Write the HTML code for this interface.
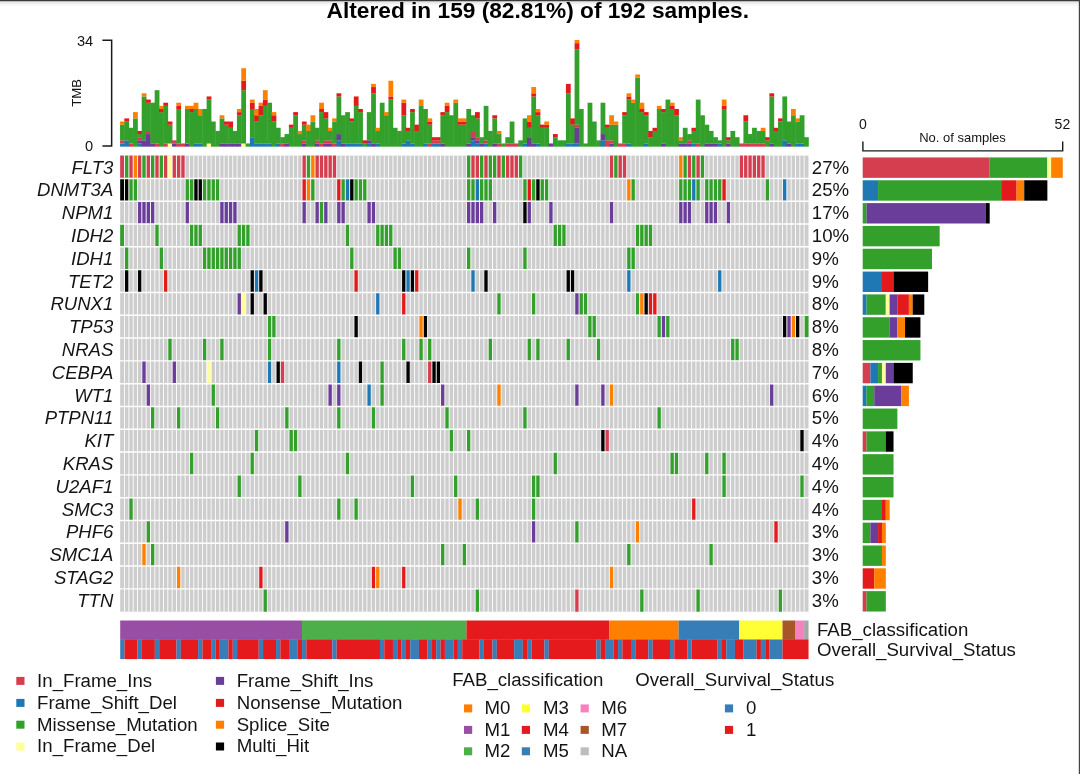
<!DOCTYPE html>
<html lang="en"><head><meta charset="utf-8"><title>Oncoplot</title>
<style>
html,body{margin:0;padding:0;background:#fff;}
body{width:1080px;height:774px;overflow:hidden;}
svg{display:block;}
text{font-family:"Liberation Sans",Arial,Helvetica,sans-serif;fill:#141414;}
.title{font-size:22.7px;font-weight:bold;fill:#000;}
.gene{font-size:18.55px;font-style:italic;}
.s18{font-size:18.65px;}
.s13{font-size:14px;}
.s13b{font-size:13px;}
.s12{font-size:13.2px;}
.s14{font-size:14.6px;}
</style></head><body>
<svg width="1080" height="774" viewBox="0 0 1080 774">
<rect x="0" y="0" width="1080" height="774" fill="#fff"/>
<rect x="0" y="1" width="1079" height="1" fill="#dedede"/>
<rect x="0" y="2" width="1079" height="1" fill="#e8e8e8"/>
<rect x="0" y="3" width="1079" height="1" fill="#f0f0f0"/>
<rect x="0" y="4" width="1079" height="1" fill="#f6f6f6"/>
<rect x="0" y="5" width="1079" height="1" fill="#fbfbfb"/>
<rect x="0" y="0" width="1080" height="1.2" fill="#3a3a3a"/>
<rect x="1078.8" y="0" width="1.2" height="774" fill="#444"/>
<rect x="120.20" y="155.60" width="688.30" height="456.10" fill="#CDCDCD"/>
<rect x="120.20" y="155.60" width="4.33" height="22.80" fill="#D53E4F"/>
<rect x="124.53" y="155.60" width="4.33" height="22.80" fill="#33A02C"/>
<rect x="128.86" y="155.60" width="4.33" height="22.80" fill="#D53E4F"/>
<rect x="133.19" y="155.60" width="4.33" height="22.80" fill="#FF7F00"/>
<rect x="137.52" y="155.60" width="4.33" height="22.80" fill="#D53E4F"/>
<rect x="141.84" y="155.60" width="4.33" height="22.80" fill="#33A02C"/>
<rect x="146.17" y="155.60" width="4.33" height="22.80" fill="#D53E4F"/>
<rect x="150.50" y="155.60" width="4.33" height="22.80" fill="#33A02C"/>
<rect x="154.83" y="155.60" width="4.33" height="22.80" fill="#D53E4F"/>
<rect x="159.16" y="155.60" width="4.33" height="22.80" fill="#33A02C"/>
<rect x="163.49" y="155.60" width="4.33" height="22.80" fill="#D53E4F"/>
<rect x="167.82" y="155.60" width="4.33" height="22.80" fill="#FFFF99"/>
<rect x="172.15" y="155.60" width="4.33" height="22.80" fill="#D53E4F"/>
<rect x="176.48" y="155.60" width="4.33" height="22.80" fill="#D53E4F"/>
<rect x="180.81" y="155.60" width="4.33" height="22.80" fill="#D53E4F"/>
<rect x="302.02" y="155.60" width="4.33" height="22.80" fill="#D53E4F"/>
<rect x="306.34" y="155.60" width="4.33" height="22.80" fill="#33A02C"/>
<rect x="310.67" y="155.60" width="4.33" height="22.80" fill="#FF7F00"/>
<rect x="315.00" y="155.60" width="4.33" height="22.80" fill="#D53E4F"/>
<rect x="319.33" y="155.60" width="4.33" height="22.80" fill="#D53E4F"/>
<rect x="323.66" y="155.60" width="4.33" height="22.80" fill="#D53E4F"/>
<rect x="327.99" y="155.60" width="4.33" height="22.80" fill="#D53E4F"/>
<rect x="332.32" y="155.60" width="4.33" height="22.80" fill="#D53E4F"/>
<rect x="466.51" y="155.60" width="4.33" height="22.80" fill="#33A02C"/>
<rect x="470.84" y="155.60" width="4.33" height="22.80" fill="#D53E4F"/>
<rect x="475.17" y="155.60" width="4.33" height="22.80" fill="#D53E4F"/>
<rect x="479.50" y="155.60" width="4.33" height="22.80" fill="#33A02C"/>
<rect x="483.83" y="155.60" width="4.33" height="22.80" fill="#D53E4F"/>
<rect x="488.16" y="155.60" width="4.33" height="22.80" fill="#33A02C"/>
<rect x="492.49" y="155.60" width="4.33" height="22.80" fill="#33A02C"/>
<rect x="496.82" y="155.60" width="4.33" height="22.80" fill="#D53E4F"/>
<rect x="501.15" y="155.60" width="4.33" height="22.80" fill="#33A02C"/>
<rect x="505.47" y="155.60" width="4.33" height="22.80" fill="#D53E4F"/>
<rect x="509.80" y="155.60" width="4.33" height="22.80" fill="#D53E4F"/>
<rect x="514.13" y="155.60" width="4.33" height="22.80" fill="#D53E4F"/>
<rect x="518.46" y="155.60" width="4.33" height="22.80" fill="#33A02C"/>
<rect x="609.37" y="155.60" width="4.33" height="22.80" fill="#D53E4F"/>
<rect x="613.70" y="155.60" width="4.33" height="22.80" fill="#33A02C"/>
<rect x="618.03" y="155.60" width="4.33" height="22.80" fill="#D53E4F"/>
<rect x="622.36" y="155.60" width="4.33" height="22.80" fill="#D53E4F"/>
<rect x="678.63" y="155.60" width="4.33" height="22.80" fill="#FF7F00"/>
<rect x="682.96" y="155.60" width="4.33" height="22.80" fill="#33A02C"/>
<rect x="687.29" y="155.60" width="4.33" height="22.80" fill="#D53E4F"/>
<rect x="691.62" y="155.60" width="4.33" height="22.80" fill="#33A02C"/>
<rect x="695.95" y="155.60" width="4.33" height="22.80" fill="#D53E4F"/>
<rect x="700.28" y="155.60" width="4.33" height="22.80" fill="#33A02C"/>
<rect x="739.24" y="155.60" width="4.33" height="22.80" fill="#D53E4F"/>
<rect x="743.57" y="155.60" width="4.33" height="22.80" fill="#D53E4F"/>
<rect x="747.89" y="155.60" width="4.33" height="22.80" fill="#D53E4F"/>
<rect x="752.22" y="155.60" width="4.33" height="22.80" fill="#D53E4F"/>
<rect x="756.55" y="155.60" width="4.33" height="22.80" fill="#D53E4F"/>
<rect x="760.88" y="155.60" width="4.33" height="22.80" fill="#D53E4F"/>
<rect x="120.20" y="178.41" width="4.33" height="22.80" fill="#000000"/>
<rect x="124.53" y="178.41" width="4.33" height="22.80" fill="#000000"/>
<rect x="128.86" y="178.41" width="4.33" height="22.80" fill="#33A02C"/>
<rect x="133.19" y="178.41" width="4.33" height="22.80" fill="#33A02C"/>
<rect x="185.13" y="178.41" width="4.33" height="22.80" fill="#33A02C"/>
<rect x="189.46" y="178.41" width="4.33" height="22.80" fill="#33A02C"/>
<rect x="193.79" y="178.41" width="4.33" height="22.80" fill="#000000"/>
<rect x="198.12" y="178.41" width="4.33" height="22.80" fill="#000000"/>
<rect x="202.45" y="178.41" width="4.33" height="22.80" fill="#33A02C"/>
<rect x="206.78" y="178.41" width="4.33" height="22.80" fill="#33A02C"/>
<rect x="211.11" y="178.41" width="4.33" height="22.80" fill="#33A02C"/>
<rect x="215.44" y="178.41" width="4.33" height="22.80" fill="#33A02C"/>
<rect x="302.02" y="178.41" width="4.33" height="22.80" fill="#E31A1C"/>
<rect x="306.34" y="178.41" width="4.33" height="22.80" fill="#FF7F00"/>
<rect x="310.67" y="178.41" width="4.33" height="22.80" fill="#33A02C"/>
<rect x="336.65" y="178.41" width="4.33" height="22.80" fill="#E31A1C"/>
<rect x="340.98" y="178.41" width="4.33" height="22.80" fill="#33A02C"/>
<rect x="345.30" y="178.41" width="4.33" height="22.80" fill="#1F78B4"/>
<rect x="349.63" y="178.41" width="4.33" height="22.80" fill="#000000"/>
<rect x="353.96" y="178.41" width="4.33" height="22.80" fill="#33A02C"/>
<rect x="358.29" y="178.41" width="4.33" height="22.80" fill="#33A02C"/>
<rect x="362.62" y="178.41" width="4.33" height="22.80" fill="#33A02C"/>
<rect x="466.51" y="178.41" width="4.33" height="22.80" fill="#33A02C"/>
<rect x="470.84" y="178.41" width="4.33" height="22.80" fill="#33A02C"/>
<rect x="475.17" y="178.41" width="4.33" height="22.80" fill="#1F78B4"/>
<rect x="479.50" y="178.41" width="4.33" height="22.80" fill="#33A02C"/>
<rect x="483.83" y="178.41" width="4.33" height="22.80" fill="#33A02C"/>
<rect x="488.16" y="178.41" width="4.33" height="22.80" fill="#33A02C"/>
<rect x="522.79" y="178.41" width="4.33" height="22.80" fill="#33A02C"/>
<rect x="527.12" y="178.41" width="4.33" height="22.80" fill="#E31A1C"/>
<rect x="531.45" y="178.41" width="4.33" height="22.80" fill="#33A02C"/>
<rect x="535.78" y="178.41" width="4.33" height="22.80" fill="#000000"/>
<rect x="540.11" y="178.41" width="4.33" height="22.80" fill="#33A02C"/>
<rect x="544.44" y="178.41" width="4.33" height="22.80" fill="#33A02C"/>
<rect x="626.68" y="178.41" width="4.33" height="22.80" fill="#FF7F00"/>
<rect x="631.01" y="178.41" width="4.33" height="22.80" fill="#33A02C"/>
<rect x="678.63" y="178.41" width="4.33" height="22.80" fill="#33A02C"/>
<rect x="682.96" y="178.41" width="4.33" height="22.80" fill="#33A02C"/>
<rect x="687.29" y="178.41" width="4.33" height="22.80" fill="#33A02C"/>
<rect x="691.62" y="178.41" width="4.33" height="22.80" fill="#1F78B4"/>
<rect x="695.95" y="178.41" width="4.33" height="22.80" fill="#33A02C"/>
<rect x="704.61" y="178.41" width="4.33" height="22.80" fill="#33A02C"/>
<rect x="708.93" y="178.41" width="4.33" height="22.80" fill="#33A02C"/>
<rect x="713.26" y="178.41" width="4.33" height="22.80" fill="#33A02C"/>
<rect x="717.59" y="178.41" width="4.33" height="22.80" fill="#33A02C"/>
<rect x="721.92" y="178.41" width="4.33" height="22.80" fill="#E31A1C"/>
<rect x="765.21" y="178.41" width="4.33" height="22.80" fill="#33A02C"/>
<rect x="782.53" y="178.41" width="4.33" height="22.80" fill="#1F78B4"/>
<rect x="137.52" y="201.21" width="4.33" height="22.80" fill="#6A3D9A"/>
<rect x="141.84" y="201.21" width="4.33" height="22.80" fill="#6A3D9A"/>
<rect x="146.17" y="201.21" width="4.33" height="22.80" fill="#6A3D9A"/>
<rect x="150.50" y="201.21" width="4.33" height="22.80" fill="#6A3D9A"/>
<rect x="185.13" y="201.21" width="4.33" height="22.80" fill="#6A3D9A"/>
<rect x="219.77" y="201.21" width="4.33" height="22.80" fill="#6A3D9A"/>
<rect x="224.09" y="201.21" width="4.33" height="22.80" fill="#6A3D9A"/>
<rect x="228.42" y="201.21" width="4.33" height="22.80" fill="#6A3D9A"/>
<rect x="232.75" y="201.21" width="4.33" height="22.80" fill="#6A3D9A"/>
<rect x="302.02" y="201.21" width="4.33" height="22.80" fill="#6A3D9A"/>
<rect x="315.00" y="201.21" width="4.33" height="22.80" fill="#6A3D9A"/>
<rect x="319.33" y="201.21" width="4.33" height="22.80" fill="#33A02C"/>
<rect x="323.66" y="201.21" width="4.33" height="22.80" fill="#6A3D9A"/>
<rect x="336.65" y="201.21" width="4.33" height="22.80" fill="#6A3D9A"/>
<rect x="340.98" y="201.21" width="4.33" height="22.80" fill="#6A3D9A"/>
<rect x="366.95" y="201.21" width="4.33" height="22.80" fill="#6A3D9A"/>
<rect x="371.28" y="201.21" width="4.33" height="22.80" fill="#6A3D9A"/>
<rect x="466.51" y="201.21" width="4.33" height="22.80" fill="#6A3D9A"/>
<rect x="470.84" y="201.21" width="4.33" height="22.80" fill="#6A3D9A"/>
<rect x="475.17" y="201.21" width="4.33" height="22.80" fill="#6A3D9A"/>
<rect x="479.50" y="201.21" width="4.33" height="22.80" fill="#6A3D9A"/>
<rect x="492.49" y="201.21" width="4.33" height="22.80" fill="#6A3D9A"/>
<rect x="522.79" y="201.21" width="4.33" height="22.80" fill="#000000"/>
<rect x="527.12" y="201.21" width="4.33" height="22.80" fill="#6A3D9A"/>
<rect x="548.76" y="201.21" width="4.33" height="22.80" fill="#6A3D9A"/>
<rect x="609.37" y="201.21" width="4.33" height="22.80" fill="#6A3D9A"/>
<rect x="678.63" y="201.21" width="4.33" height="22.80" fill="#6A3D9A"/>
<rect x="682.96" y="201.21" width="4.33" height="22.80" fill="#6A3D9A"/>
<rect x="687.29" y="201.21" width="4.33" height="22.80" fill="#6A3D9A"/>
<rect x="704.61" y="201.21" width="4.33" height="22.80" fill="#6A3D9A"/>
<rect x="708.93" y="201.21" width="4.33" height="22.80" fill="#6A3D9A"/>
<rect x="713.26" y="201.21" width="4.33" height="22.80" fill="#6A3D9A"/>
<rect x="726.25" y="201.21" width="4.33" height="22.80" fill="#6A3D9A"/>
<rect x="120.20" y="224.01" width="4.33" height="22.80" fill="#33A02C"/>
<rect x="154.83" y="224.01" width="4.33" height="22.80" fill="#33A02C"/>
<rect x="189.46" y="224.01" width="4.33" height="22.80" fill="#33A02C"/>
<rect x="193.79" y="224.01" width="4.33" height="22.80" fill="#33A02C"/>
<rect x="198.12" y="224.01" width="4.33" height="22.80" fill="#33A02C"/>
<rect x="237.08" y="224.01" width="4.33" height="22.80" fill="#33A02C"/>
<rect x="241.41" y="224.01" width="4.33" height="22.80" fill="#33A02C"/>
<rect x="245.74" y="224.01" width="4.33" height="22.80" fill="#33A02C"/>
<rect x="345.30" y="224.01" width="4.33" height="22.80" fill="#33A02C"/>
<rect x="375.61" y="224.01" width="4.33" height="22.80" fill="#33A02C"/>
<rect x="379.94" y="224.01" width="4.33" height="22.80" fill="#33A02C"/>
<rect x="384.26" y="224.01" width="4.33" height="22.80" fill="#33A02C"/>
<rect x="388.59" y="224.01" width="4.33" height="22.80" fill="#33A02C"/>
<rect x="553.09" y="224.01" width="4.33" height="22.80" fill="#33A02C"/>
<rect x="557.42" y="224.01" width="4.33" height="22.80" fill="#33A02C"/>
<rect x="561.75" y="224.01" width="4.33" height="22.80" fill="#33A02C"/>
<rect x="635.34" y="224.01" width="4.33" height="22.80" fill="#33A02C"/>
<rect x="639.67" y="224.01" width="4.33" height="22.80" fill="#33A02C"/>
<rect x="644.00" y="224.01" width="4.33" height="22.80" fill="#33A02C"/>
<rect x="648.33" y="224.01" width="4.33" height="22.80" fill="#33A02C"/>
<rect x="124.53" y="246.82" width="4.33" height="22.80" fill="#33A02C"/>
<rect x="159.16" y="246.82" width="4.33" height="22.80" fill="#33A02C"/>
<rect x="202.45" y="246.82" width="4.33" height="22.80" fill="#33A02C"/>
<rect x="206.78" y="246.82" width="4.33" height="22.80" fill="#33A02C"/>
<rect x="211.11" y="246.82" width="4.33" height="22.80" fill="#33A02C"/>
<rect x="215.44" y="246.82" width="4.33" height="22.80" fill="#33A02C"/>
<rect x="219.77" y="246.82" width="4.33" height="22.80" fill="#33A02C"/>
<rect x="224.09" y="246.82" width="4.33" height="22.80" fill="#33A02C"/>
<rect x="228.42" y="246.82" width="4.33" height="22.80" fill="#33A02C"/>
<rect x="232.75" y="246.82" width="4.33" height="22.80" fill="#33A02C"/>
<rect x="237.08" y="246.82" width="4.33" height="22.80" fill="#33A02C"/>
<rect x="349.63" y="246.82" width="4.33" height="22.80" fill="#33A02C"/>
<rect x="392.92" y="246.82" width="4.33" height="22.80" fill="#33A02C"/>
<rect x="397.25" y="246.82" width="4.33" height="22.80" fill="#33A02C"/>
<rect x="466.51" y="246.82" width="4.33" height="22.80" fill="#33A02C"/>
<rect x="522.79" y="246.82" width="4.33" height="22.80" fill="#33A02C"/>
<rect x="626.68" y="246.82" width="4.33" height="22.80" fill="#33A02C"/>
<rect x="631.01" y="246.82" width="4.33" height="22.80" fill="#33A02C"/>
<rect x="124.53" y="269.62" width="4.33" height="22.80" fill="#000000"/>
<rect x="137.52" y="269.62" width="4.33" height="22.80" fill="#000000"/>
<rect x="163.49" y="269.62" width="4.33" height="22.80" fill="#E31A1C"/>
<rect x="250.07" y="269.62" width="4.33" height="22.80" fill="#000000"/>
<rect x="254.40" y="269.62" width="4.33" height="22.80" fill="#1F78B4"/>
<rect x="258.73" y="269.62" width="4.33" height="22.80" fill="#000000"/>
<rect x="353.96" y="269.62" width="4.33" height="22.80" fill="#E31A1C"/>
<rect x="401.58" y="269.62" width="4.33" height="22.80" fill="#000000"/>
<rect x="405.91" y="269.62" width="4.33" height="22.80" fill="#1F78B4"/>
<rect x="410.24" y="269.62" width="4.33" height="22.80" fill="#000000"/>
<rect x="414.57" y="269.62" width="4.33" height="22.80" fill="#E31A1C"/>
<rect x="470.84" y="269.62" width="4.33" height="22.80" fill="#1F78B4"/>
<rect x="483.83" y="269.62" width="4.33" height="22.80" fill="#000000"/>
<rect x="566.08" y="269.62" width="4.33" height="22.80" fill="#000000"/>
<rect x="570.41" y="269.62" width="4.33" height="22.80" fill="#000000"/>
<rect x="626.68" y="269.62" width="4.33" height="22.80" fill="#1F78B4"/>
<rect x="717.59" y="269.62" width="4.33" height="22.80" fill="#1F78B4"/>
<rect x="237.08" y="292.43" width="4.33" height="22.80" fill="#6A3D9A"/>
<rect x="241.41" y="292.43" width="4.33" height="22.80" fill="#FFFF99"/>
<rect x="250.07" y="292.43" width="4.33" height="22.80" fill="#000000"/>
<rect x="263.05" y="292.43" width="4.33" height="22.80" fill="#000000"/>
<rect x="375.61" y="292.43" width="4.33" height="22.80" fill="#1F78B4"/>
<rect x="401.58" y="292.43" width="4.33" height="22.80" fill="#E31A1C"/>
<rect x="496.82" y="292.43" width="4.33" height="22.80" fill="#33A02C"/>
<rect x="531.45" y="292.43" width="4.33" height="22.80" fill="#33A02C"/>
<rect x="574.74" y="292.43" width="4.33" height="22.80" fill="#6A3D9A"/>
<rect x="579.07" y="292.43" width="4.33" height="22.80" fill="#33A02C"/>
<rect x="583.40" y="292.43" width="4.33" height="22.80" fill="#33A02C"/>
<rect x="635.34" y="292.43" width="4.33" height="22.80" fill="#33A02C"/>
<rect x="639.67" y="292.43" width="4.33" height="22.80" fill="#FF7F00"/>
<rect x="644.00" y="292.43" width="4.33" height="22.80" fill="#000000"/>
<rect x="648.33" y="292.43" width="4.33" height="22.80" fill="#E31A1C"/>
<rect x="652.66" y="292.43" width="4.33" height="22.80" fill="#E31A1C"/>
<rect x="267.38" y="315.24" width="4.33" height="22.80" fill="#33A02C"/>
<rect x="271.71" y="315.24" width="4.33" height="22.80" fill="#33A02C"/>
<rect x="353.96" y="315.24" width="4.33" height="22.80" fill="#000000"/>
<rect x="418.90" y="315.24" width="4.33" height="22.80" fill="#FF7F00"/>
<rect x="423.23" y="315.24" width="4.33" height="22.80" fill="#000000"/>
<rect x="587.72" y="315.24" width="4.33" height="22.80" fill="#33A02C"/>
<rect x="592.05" y="315.24" width="4.33" height="22.80" fill="#33A02C"/>
<rect x="656.99" y="315.24" width="4.33" height="22.80" fill="#33A02C"/>
<rect x="661.32" y="315.24" width="4.33" height="22.80" fill="#6A3D9A"/>
<rect x="665.65" y="315.24" width="4.33" height="22.80" fill="#33A02C"/>
<rect x="782.53" y="315.24" width="4.33" height="22.80" fill="#000000"/>
<rect x="786.86" y="315.24" width="4.33" height="22.80" fill="#6A3D9A"/>
<rect x="791.18" y="315.24" width="4.33" height="22.80" fill="#FF7F00"/>
<rect x="795.51" y="315.24" width="4.33" height="22.80" fill="#000000"/>
<rect x="804.17" y="315.24" width="4.33" height="22.80" fill="#33A02C"/>
<rect x="167.82" y="338.04" width="4.33" height="22.80" fill="#33A02C"/>
<rect x="202.45" y="338.04" width="4.33" height="22.80" fill="#33A02C"/>
<rect x="219.77" y="338.04" width="4.33" height="22.80" fill="#33A02C"/>
<rect x="267.38" y="338.04" width="4.33" height="22.80" fill="#33A02C"/>
<rect x="336.65" y="338.04" width="4.33" height="22.80" fill="#33A02C"/>
<rect x="401.58" y="338.04" width="4.33" height="22.80" fill="#33A02C"/>
<rect x="418.90" y="338.04" width="4.33" height="22.80" fill="#33A02C"/>
<rect x="427.55" y="338.04" width="4.33" height="22.80" fill="#33A02C"/>
<rect x="488.16" y="338.04" width="4.33" height="22.80" fill="#33A02C"/>
<rect x="527.12" y="338.04" width="4.33" height="22.80" fill="#33A02C"/>
<rect x="535.78" y="338.04" width="4.33" height="22.80" fill="#33A02C"/>
<rect x="566.08" y="338.04" width="4.33" height="22.80" fill="#33A02C"/>
<rect x="596.38" y="338.04" width="4.33" height="22.80" fill="#33A02C"/>
<rect x="730.58" y="338.04" width="4.33" height="22.80" fill="#33A02C"/>
<rect x="734.91" y="338.04" width="4.33" height="22.80" fill="#33A02C"/>
<rect x="141.84" y="360.85" width="4.33" height="22.80" fill="#6A3D9A"/>
<rect x="172.15" y="360.85" width="4.33" height="22.80" fill="#6A3D9A"/>
<rect x="206.78" y="360.85" width="4.33" height="22.80" fill="#FFFF99"/>
<rect x="267.38" y="360.85" width="4.33" height="22.80" fill="#1F78B4"/>
<rect x="276.04" y="360.85" width="4.33" height="22.80" fill="#000000"/>
<rect x="280.37" y="360.85" width="4.33" height="22.80" fill="#D53E4F"/>
<rect x="336.65" y="360.85" width="4.33" height="22.80" fill="#1F78B4"/>
<rect x="358.29" y="360.85" width="4.33" height="22.80" fill="#000000"/>
<rect x="379.94" y="360.85" width="4.33" height="22.80" fill="#33A02C"/>
<rect x="405.91" y="360.85" width="4.33" height="22.80" fill="#000000"/>
<rect x="427.55" y="360.85" width="4.33" height="22.80" fill="#D53E4F"/>
<rect x="431.88" y="360.85" width="4.33" height="22.80" fill="#000000"/>
<rect x="436.21" y="360.85" width="4.33" height="22.80" fill="#000000"/>
<rect x="146.17" y="383.65" width="4.33" height="22.80" fill="#6A3D9A"/>
<rect x="211.11" y="383.65" width="4.33" height="22.80" fill="#33A02C"/>
<rect x="327.99" y="383.65" width="4.33" height="22.80" fill="#6A3D9A"/>
<rect x="336.65" y="383.65" width="4.33" height="22.80" fill="#6A3D9A"/>
<rect x="366.95" y="383.65" width="4.33" height="22.80" fill="#1F78B4"/>
<rect x="379.94" y="383.65" width="4.33" height="22.80" fill="#33A02C"/>
<rect x="440.54" y="383.65" width="4.33" height="22.80" fill="#6A3D9A"/>
<rect x="496.82" y="383.65" width="4.33" height="22.80" fill="#FF7F00"/>
<rect x="574.74" y="383.65" width="4.33" height="22.80" fill="#6A3D9A"/>
<rect x="600.71" y="383.65" width="4.33" height="22.80" fill="#6A3D9A"/>
<rect x="609.37" y="383.65" width="4.33" height="22.80" fill="#FF7F00"/>
<rect x="769.54" y="383.65" width="4.33" height="22.80" fill="#6A3D9A"/>
<rect x="150.50" y="406.45" width="4.33" height="22.80" fill="#33A02C"/>
<rect x="176.48" y="406.45" width="4.33" height="22.80" fill="#33A02C"/>
<rect x="215.44" y="406.45" width="4.33" height="22.80" fill="#33A02C"/>
<rect x="284.70" y="406.45" width="4.33" height="22.80" fill="#33A02C"/>
<rect x="336.65" y="406.45" width="4.33" height="22.80" fill="#33A02C"/>
<rect x="371.28" y="406.45" width="4.33" height="22.80" fill="#33A02C"/>
<rect x="444.87" y="406.45" width="4.33" height="22.80" fill="#33A02C"/>
<rect x="522.79" y="406.45" width="4.33" height="22.80" fill="#33A02C"/>
<rect x="656.99" y="406.45" width="4.33" height="22.80" fill="#33A02C"/>
<rect x="254.40" y="429.26" width="4.33" height="22.80" fill="#33A02C"/>
<rect x="289.03" y="429.26" width="4.33" height="22.80" fill="#33A02C"/>
<rect x="293.36" y="429.26" width="4.33" height="22.80" fill="#33A02C"/>
<rect x="449.20" y="429.26" width="4.33" height="22.80" fill="#33A02C"/>
<rect x="466.51" y="429.26" width="4.33" height="22.80" fill="#33A02C"/>
<rect x="600.71" y="429.26" width="4.33" height="22.80" fill="#000000"/>
<rect x="605.04" y="429.26" width="4.33" height="22.80" fill="#D53E4F"/>
<rect x="799.84" y="429.26" width="4.33" height="22.80" fill="#000000"/>
<rect x="189.46" y="452.06" width="4.33" height="22.80" fill="#33A02C"/>
<rect x="250.07" y="452.06" width="4.33" height="22.80" fill="#33A02C"/>
<rect x="345.30" y="452.06" width="4.33" height="22.80" fill="#33A02C"/>
<rect x="553.09" y="452.06" width="4.33" height="22.80" fill="#33A02C"/>
<rect x="669.97" y="452.06" width="4.33" height="22.80" fill="#33A02C"/>
<rect x="674.30" y="452.06" width="4.33" height="22.80" fill="#33A02C"/>
<rect x="704.61" y="452.06" width="4.33" height="22.80" fill="#33A02C"/>
<rect x="721.92" y="452.06" width="4.33" height="22.80" fill="#33A02C"/>
<rect x="237.08" y="474.87" width="4.33" height="22.80" fill="#33A02C"/>
<rect x="297.69" y="474.87" width="4.33" height="22.80" fill="#33A02C"/>
<rect x="410.24" y="474.87" width="4.33" height="22.80" fill="#33A02C"/>
<rect x="453.53" y="474.87" width="4.33" height="22.80" fill="#33A02C"/>
<rect x="531.45" y="474.87" width="4.33" height="22.80" fill="#33A02C"/>
<rect x="535.78" y="474.87" width="4.33" height="22.80" fill="#33A02C"/>
<rect x="721.92" y="474.87" width="4.33" height="22.80" fill="#33A02C"/>
<rect x="799.84" y="474.87" width="4.33" height="22.80" fill="#33A02C"/>
<rect x="128.86" y="497.67" width="4.33" height="22.80" fill="#33A02C"/>
<rect x="336.65" y="497.67" width="4.33" height="22.80" fill="#33A02C"/>
<rect x="353.96" y="497.67" width="4.33" height="22.80" fill="#33A02C"/>
<rect x="457.86" y="497.67" width="4.33" height="22.80" fill="#FF7F00"/>
<rect x="475.17" y="497.67" width="4.33" height="22.80" fill="#33A02C"/>
<rect x="531.45" y="497.67" width="4.33" height="22.80" fill="#33A02C"/>
<rect x="691.62" y="497.67" width="4.33" height="22.80" fill="#E31A1C"/>
<rect x="146.17" y="520.48" width="4.33" height="22.80" fill="#33A02C"/>
<rect x="284.70" y="520.48" width="4.33" height="22.80" fill="#6A3D9A"/>
<rect x="531.45" y="520.48" width="4.33" height="22.80" fill="#6A3D9A"/>
<rect x="574.74" y="520.48" width="4.33" height="22.80" fill="#33A02C"/>
<rect x="635.34" y="520.48" width="4.33" height="22.80" fill="#FF7F00"/>
<rect x="773.87" y="520.48" width="4.33" height="22.80" fill="#E31A1C"/>
<rect x="141.84" y="543.28" width="4.33" height="22.80" fill="#FF7F00"/>
<rect x="150.50" y="543.28" width="4.33" height="22.80" fill="#33A02C"/>
<rect x="440.54" y="543.28" width="4.33" height="22.80" fill="#33A02C"/>
<rect x="462.19" y="543.28" width="4.33" height="22.80" fill="#33A02C"/>
<rect x="626.68" y="543.28" width="4.33" height="22.80" fill="#33A02C"/>
<rect x="708.93" y="543.28" width="4.33" height="22.80" fill="#33A02C"/>
<rect x="176.48" y="566.09" width="4.33" height="22.80" fill="#FF7F00"/>
<rect x="258.73" y="566.09" width="4.33" height="22.80" fill="#E31A1C"/>
<rect x="371.28" y="566.09" width="4.33" height="22.80" fill="#E31A1C"/>
<rect x="375.61" y="566.09" width="4.33" height="22.80" fill="#FF7F00"/>
<rect x="401.58" y="566.09" width="4.33" height="22.80" fill="#E31A1C"/>
<rect x="609.37" y="566.09" width="4.33" height="22.80" fill="#FF7F00"/>
<rect x="263.05" y="588.89" width="4.33" height="22.80" fill="#33A02C"/>
<rect x="475.17" y="588.89" width="4.33" height="22.80" fill="#33A02C"/>
<rect x="574.74" y="588.89" width="4.33" height="22.80" fill="#D53E4F"/>
<rect x="639.67" y="588.89" width="4.33" height="22.80" fill="#33A02C"/>
<rect x="695.95" y="588.89" width="4.33" height="22.80" fill="#33A02C"/>
<rect x="778.20" y="588.89" width="4.33" height="22.80" fill="#33A02C"/>
<path d="M124.53 155.10V612.20M128.86 155.10V612.20M133.19 155.10V612.20M137.52 155.10V612.20M141.84 155.10V612.20M146.17 155.10V612.20M150.50 155.10V612.20M154.83 155.10V612.20M159.16 155.10V612.20M163.49 155.10V612.20M167.82 155.10V612.20M172.15 155.10V612.20M176.48 155.10V612.20M180.81 155.10V612.20M185.13 155.10V612.20M189.46 155.10V612.20M193.79 155.10V612.20M198.12 155.10V612.20M202.45 155.10V612.20M206.78 155.10V612.20M211.11 155.10V612.20M215.44 155.10V612.20M219.77 155.10V612.20M224.09 155.10V612.20M228.42 155.10V612.20M232.75 155.10V612.20M237.08 155.10V612.20M241.41 155.10V612.20M245.74 155.10V612.20M250.07 155.10V612.20M254.40 155.10V612.20M258.73 155.10V612.20M263.05 155.10V612.20M267.38 155.10V612.20M271.71 155.10V612.20M276.04 155.10V612.20M280.37 155.10V612.20M284.70 155.10V612.20M289.03 155.10V612.20M293.36 155.10V612.20M297.69 155.10V612.20M302.02 155.10V612.20M306.34 155.10V612.20M310.67 155.10V612.20M315.00 155.10V612.20M319.33 155.10V612.20M323.66 155.10V612.20M327.99 155.10V612.20M332.32 155.10V612.20M336.65 155.10V612.20M340.98 155.10V612.20M345.30 155.10V612.20M349.63 155.10V612.20M353.96 155.10V612.20M358.29 155.10V612.20M362.62 155.10V612.20M366.95 155.10V612.20M371.28 155.10V612.20M375.61 155.10V612.20M379.94 155.10V612.20M384.26 155.10V612.20M388.59 155.10V612.20M392.92 155.10V612.20M397.25 155.10V612.20M401.58 155.10V612.20M405.91 155.10V612.20M410.24 155.10V612.20M414.57 155.10V612.20M418.90 155.10V612.20M423.23 155.10V612.20M427.55 155.10V612.20M431.88 155.10V612.20M436.21 155.10V612.20M440.54 155.10V612.20M444.87 155.10V612.20M449.20 155.10V612.20M453.53 155.10V612.20M457.86 155.10V612.20M462.19 155.10V612.20M466.51 155.10V612.20M470.84 155.10V612.20M475.17 155.10V612.20M479.50 155.10V612.20M483.83 155.10V612.20M488.16 155.10V612.20M492.49 155.10V612.20M496.82 155.10V612.20M501.15 155.10V612.20M505.47 155.10V612.20M509.80 155.10V612.20M514.13 155.10V612.20M518.46 155.10V612.20M522.79 155.10V612.20M527.12 155.10V612.20M531.45 155.10V612.20M535.78 155.10V612.20M540.11 155.10V612.20M544.44 155.10V612.20M548.76 155.10V612.20M553.09 155.10V612.20M557.42 155.10V612.20M561.75 155.10V612.20M566.08 155.10V612.20M570.41 155.10V612.20M574.74 155.10V612.20M579.07 155.10V612.20M583.40 155.10V612.20M587.72 155.10V612.20M592.05 155.10V612.20M596.38 155.10V612.20M600.71 155.10V612.20M605.04 155.10V612.20M609.37 155.10V612.20M613.70 155.10V612.20M618.03 155.10V612.20M622.36 155.10V612.20M626.68 155.10V612.20M631.01 155.10V612.20M635.34 155.10V612.20M639.67 155.10V612.20M644.00 155.10V612.20M648.33 155.10V612.20M652.66 155.10V612.20M656.99 155.10V612.20M661.32 155.10V612.20M665.65 155.10V612.20M669.97 155.10V612.20M674.30 155.10V612.20M678.63 155.10V612.20M682.96 155.10V612.20M687.29 155.10V612.20M691.62 155.10V612.20M695.95 155.10V612.20M700.28 155.10V612.20M704.61 155.10V612.20M708.93 155.10V612.20M713.26 155.10V612.20M717.59 155.10V612.20M721.92 155.10V612.20M726.25 155.10V612.20M730.58 155.10V612.20M734.91 155.10V612.20M739.24 155.10V612.20M743.57 155.10V612.20M747.89 155.10V612.20M752.22 155.10V612.20M756.55 155.10V612.20M760.88 155.10V612.20M765.21 155.10V612.20M769.54 155.10V612.20M773.87 155.10V612.20M778.20 155.10V612.20M782.53 155.10V612.20M786.86 155.10V612.20M791.18 155.10V612.20M795.51 155.10V612.20M799.84 155.10V612.20M804.17 155.10V612.20" stroke="#fff" stroke-width="0.9" fill="none"/>
<path d="M119.70 178.41H809.00M119.70 201.21H809.00M119.70 224.01H809.00M119.70 246.82H809.00M119.70 269.62H809.00M119.70 292.43H809.00M119.70 315.24H809.00M119.70 338.04H809.00M119.70 360.85H809.00M119.70 383.65H809.00M119.70 406.45H809.00M119.70 429.26H809.00M119.70 452.06H809.00M119.70 474.87H809.00M119.70 497.67H809.00M119.70 520.48H809.00M119.70 543.28H809.00M119.70 566.09H809.00M119.70 588.89H809.00" stroke="#fff" stroke-width="1.45" fill="none"/>
<rect x="120.05" y="143.47" width="4.78" height="3.18" fill="#1F78B4"/>
<rect x="120.05" y="140.33" width="4.78" height="3.18" fill="#D53E4F"/>
<rect x="120.05" y="124.66" width="4.78" height="15.72" fill="#33A02C"/>
<rect x="120.05" y="121.52" width="4.78" height="3.18" fill="#FF7F00"/>
<rect x="124.38" y="140.33" width="4.78" height="6.32" fill="#1F78B4"/>
<rect x="124.38" y="121.52" width="4.78" height="18.86" fill="#33A02C"/>
<rect x="124.38" y="118.38" width="4.78" height="3.18" fill="#E31A1C"/>
<rect x="128.71" y="143.47" width="4.78" height="3.18" fill="#D53E4F"/>
<rect x="128.71" y="127.79" width="4.78" height="15.72" fill="#33A02C"/>
<rect x="133.04" y="118.38" width="4.78" height="28.26" fill="#33A02C"/>
<rect x="133.04" y="112.11" width="4.78" height="6.32" fill="#FF7F00"/>
<rect x="137.37" y="143.47" width="4.78" height="3.18" fill="#1F78B4"/>
<rect x="137.37" y="140.33" width="4.78" height="3.18" fill="#6A3D9A"/>
<rect x="137.37" y="137.20" width="4.78" height="3.18" fill="#D53E4F"/>
<rect x="137.37" y="134.06" width="4.78" height="3.18" fill="#33A02C"/>
<rect x="137.37" y="130.93" width="4.78" height="3.18" fill="#E31A1C"/>
<rect x="141.69" y="140.33" width="4.78" height="6.32" fill="#6A3D9A"/>
<rect x="141.69" y="96.44" width="4.78" height="43.94" fill="#33A02C"/>
<rect x="141.69" y="93.30" width="4.78" height="3.18" fill="#FF7F00"/>
<rect x="146.02" y="134.06" width="4.78" height="12.59" fill="#6A3D9A"/>
<rect x="146.02" y="130.93" width="4.78" height="3.18" fill="#D53E4F"/>
<rect x="146.02" y="102.71" width="4.78" height="28.26" fill="#33A02C"/>
<rect x="146.02" y="99.58" width="4.78" height="3.18" fill="#E31A1C"/>
<rect x="150.35" y="143.47" width="4.78" height="3.18" fill="#6A3D9A"/>
<rect x="150.35" y="102.71" width="4.78" height="40.80" fill="#33A02C"/>
<rect x="154.68" y="143.47" width="4.78" height="3.18" fill="#D53E4F"/>
<rect x="154.68" y="90.17" width="4.78" height="53.34" fill="#33A02C"/>
<rect x="159.01" y="112.11" width="4.78" height="34.53" fill="#33A02C"/>
<rect x="159.01" y="108.98" width="4.78" height="3.18" fill="#E31A1C"/>
<rect x="159.01" y="105.84" width="4.78" height="3.18" fill="#FF7F00"/>
<rect x="163.34" y="143.47" width="4.78" height="3.18" fill="#D53E4F"/>
<rect x="163.34" y="105.84" width="4.78" height="37.67" fill="#33A02C"/>
<rect x="163.34" y="102.71" width="4.78" height="3.18" fill="#E31A1C"/>
<rect x="167.67" y="143.47" width="4.78" height="3.18" fill="#FFFF99"/>
<rect x="167.67" y="124.66" width="4.78" height="18.86" fill="#33A02C"/>
<rect x="167.67" y="121.52" width="4.78" height="3.18" fill="#E31A1C"/>
<rect x="172.00" y="143.47" width="4.78" height="3.18" fill="#6A3D9A"/>
<rect x="172.00" y="140.33" width="4.78" height="3.18" fill="#D53E4F"/>
<rect x="176.33" y="143.47" width="4.78" height="3.18" fill="#D53E4F"/>
<rect x="176.33" y="108.98" width="4.78" height="34.53" fill="#33A02C"/>
<rect x="176.33" y="105.84" width="4.78" height="3.18" fill="#E31A1C"/>
<rect x="176.33" y="102.71" width="4.78" height="3.18" fill="#FF7F00"/>
<rect x="180.66" y="143.47" width="4.78" height="3.18" fill="#D53E4F"/>
<rect x="184.98" y="143.47" width="4.78" height="3.18" fill="#6A3D9A"/>
<rect x="184.98" y="108.98" width="4.78" height="34.53" fill="#33A02C"/>
<rect x="184.98" y="105.84" width="4.78" height="3.18" fill="#FF7F00"/>
<rect x="189.31" y="112.11" width="4.78" height="34.53" fill="#33A02C"/>
<rect x="189.31" y="108.98" width="4.78" height="3.18" fill="#E31A1C"/>
<rect x="189.31" y="105.84" width="4.78" height="3.18" fill="#FF7F00"/>
<rect x="193.64" y="143.47" width="4.78" height="3.18" fill="#1F78B4"/>
<rect x="193.64" y="108.98" width="4.78" height="34.53" fill="#33A02C"/>
<rect x="193.64" y="102.71" width="4.78" height="6.32" fill="#FF7F00"/>
<rect x="197.97" y="143.47" width="4.78" height="3.18" fill="#1F78B4"/>
<rect x="197.97" y="115.25" width="4.78" height="28.26" fill="#33A02C"/>
<rect x="197.97" y="108.98" width="4.78" height="6.32" fill="#FF7F00"/>
<rect x="202.30" y="108.98" width="4.78" height="37.67" fill="#33A02C"/>
<rect x="206.63" y="143.47" width="4.78" height="3.18" fill="#FFFF99"/>
<rect x="206.63" y="99.58" width="4.78" height="43.94" fill="#33A02C"/>
<rect x="206.63" y="96.44" width="4.78" height="3.18" fill="#E31A1C"/>
<rect x="210.96" y="121.52" width="4.78" height="25.13" fill="#33A02C"/>
<rect x="215.29" y="130.92" width="4.78" height="15.72" fill="#33A02C"/>
<rect x="219.62" y="143.47" width="4.78" height="3.18" fill="#6A3D9A"/>
<rect x="219.62" y="118.39" width="4.78" height="25.13" fill="#33A02C"/>
<rect x="219.62" y="115.25" width="4.78" height="3.18" fill="#FF7F00"/>
<rect x="223.94" y="143.47" width="4.78" height="3.18" fill="#6A3D9A"/>
<rect x="223.94" y="124.66" width="4.78" height="18.86" fill="#33A02C"/>
<rect x="223.94" y="121.52" width="4.78" height="3.18" fill="#E31A1C"/>
<rect x="228.27" y="143.47" width="4.78" height="3.18" fill="#6A3D9A"/>
<rect x="228.27" y="127.79" width="4.78" height="15.72" fill="#33A02C"/>
<rect x="228.27" y="121.52" width="4.78" height="6.32" fill="#E31A1C"/>
<rect x="232.60" y="143.47" width="4.78" height="3.18" fill="#6A3D9A"/>
<rect x="232.60" y="130.93" width="4.78" height="12.59" fill="#33A02C"/>
<rect x="236.93" y="143.47" width="4.78" height="3.18" fill="#6A3D9A"/>
<rect x="236.93" y="115.25" width="4.78" height="28.26" fill="#33A02C"/>
<rect x="236.93" y="112.11" width="4.78" height="3.18" fill="#E31A1C"/>
<rect x="236.93" y="108.98" width="4.78" height="3.18" fill="#FF7F00"/>
<rect x="241.26" y="143.47" width="4.78" height="3.18" fill="#FFFF99"/>
<rect x="241.26" y="90.17" width="4.78" height="53.34" fill="#33A02C"/>
<rect x="241.26" y="80.77" width="4.78" height="9.46" fill="#E31A1C"/>
<rect x="241.26" y="68.23" width="4.78" height="12.59" fill="#FF7F00"/>
<rect x="245.59" y="143.47" width="4.78" height="3.18" fill="#33A02C"/>
<rect x="249.92" y="137.19" width="4.78" height="9.46" fill="#1F78B4"/>
<rect x="249.92" y="108.98" width="4.78" height="28.26" fill="#33A02C"/>
<rect x="249.92" y="102.71" width="4.78" height="6.32" fill="#E31A1C"/>
<rect x="249.92" y="99.57" width="4.78" height="3.18" fill="#FF7F00"/>
<rect x="254.25" y="143.47" width="4.78" height="3.18" fill="#1F78B4"/>
<rect x="254.25" y="121.52" width="4.78" height="22.00" fill="#33A02C"/>
<rect x="254.25" y="115.25" width="4.78" height="6.32" fill="#E31A1C"/>
<rect x="254.25" y="108.98" width="4.78" height="6.32" fill="#FF7F00"/>
<rect x="258.58" y="143.47" width="4.78" height="3.18" fill="#1F78B4"/>
<rect x="258.58" y="115.25" width="4.78" height="28.26" fill="#33A02C"/>
<rect x="258.58" y="105.84" width="4.78" height="9.46" fill="#E31A1C"/>
<rect x="258.58" y="102.71" width="4.78" height="3.18" fill="#FF7F00"/>
<rect x="262.90" y="143.47" width="4.78" height="3.18" fill="#1F78B4"/>
<rect x="262.90" y="105.84" width="4.78" height="37.67" fill="#33A02C"/>
<rect x="262.90" y="99.58" width="4.78" height="6.32" fill="#E31A1C"/>
<rect x="262.90" y="90.17" width="4.78" height="9.46" fill="#FF7F00"/>
<rect x="267.23" y="143.47" width="4.78" height="3.18" fill="#1F78B4"/>
<rect x="267.23" y="102.71" width="4.78" height="40.80" fill="#33A02C"/>
<rect x="271.56" y="121.52" width="4.78" height="25.13" fill="#33A02C"/>
<rect x="271.56" y="115.25" width="4.78" height="6.32" fill="#E31A1C"/>
<rect x="271.56" y="112.11" width="4.78" height="3.18" fill="#FF7F00"/>
<rect x="275.89" y="143.47" width="4.78" height="3.18" fill="#1F78B4"/>
<rect x="275.89" y="127.79" width="4.78" height="15.72" fill="#33A02C"/>
<rect x="280.22" y="143.47" width="4.78" height="3.18" fill="#D53E4F"/>
<rect x="280.22" y="137.19" width="4.78" height="6.32" fill="#33A02C"/>
<rect x="284.55" y="143.47" width="4.78" height="3.18" fill="#6A3D9A"/>
<rect x="284.55" y="134.06" width="4.78" height="9.46" fill="#33A02C"/>
<rect x="288.88" y="127.79" width="4.78" height="18.86" fill="#33A02C"/>
<rect x="288.88" y="124.65" width="4.78" height="3.18" fill="#E31A1C"/>
<rect x="293.21" y="115.25" width="4.78" height="31.40" fill="#33A02C"/>
<rect x="293.21" y="112.11" width="4.78" height="3.18" fill="#E31A1C"/>
<rect x="297.54" y="134.06" width="4.78" height="12.59" fill="#33A02C"/>
<rect x="297.54" y="130.93" width="4.78" height="3.18" fill="#FF7F00"/>
<rect x="301.87" y="143.47" width="4.78" height="3.18" fill="#6A3D9A"/>
<rect x="301.87" y="140.33" width="4.78" height="3.18" fill="#D53E4F"/>
<rect x="301.87" y="124.66" width="4.78" height="15.72" fill="#33A02C"/>
<rect x="301.87" y="121.52" width="4.78" height="3.18" fill="#E31A1C"/>
<rect x="306.19" y="130.92" width="4.78" height="15.72" fill="#33A02C"/>
<rect x="306.19" y="124.65" width="4.78" height="6.32" fill="#FF7F00"/>
<rect x="310.52" y="121.52" width="4.78" height="25.13" fill="#33A02C"/>
<rect x="310.52" y="115.25" width="4.78" height="6.32" fill="#FF7F00"/>
<rect x="314.85" y="143.47" width="4.78" height="3.18" fill="#6A3D9A"/>
<rect x="314.85" y="140.33" width="4.78" height="3.18" fill="#D53E4F"/>
<rect x="314.85" y="127.79" width="4.78" height="12.59" fill="#33A02C"/>
<rect x="319.18" y="143.47" width="4.78" height="3.18" fill="#D53E4F"/>
<rect x="319.18" y="112.12" width="4.78" height="31.40" fill="#33A02C"/>
<rect x="319.18" y="108.98" width="4.78" height="3.18" fill="#E31A1C"/>
<rect x="319.18" y="102.71" width="4.78" height="6.32" fill="#FF7F00"/>
<rect x="323.51" y="143.47" width="4.78" height="3.18" fill="#6A3D9A"/>
<rect x="323.51" y="140.33" width="4.78" height="3.18" fill="#D53E4F"/>
<rect x="323.51" y="118.39" width="4.78" height="22.00" fill="#33A02C"/>
<rect x="323.51" y="112.12" width="4.78" height="6.32" fill="#E31A1C"/>
<rect x="327.84" y="143.47" width="4.78" height="3.18" fill="#6A3D9A"/>
<rect x="327.84" y="140.33" width="4.78" height="3.18" fill="#D53E4F"/>
<rect x="327.84" y="130.93" width="4.78" height="9.46" fill="#33A02C"/>
<rect x="327.84" y="127.79" width="4.78" height="3.18" fill="#FF7F00"/>
<rect x="332.17" y="143.47" width="4.78" height="3.18" fill="#D53E4F"/>
<rect x="332.17" y="121.52" width="4.78" height="22.00" fill="#33A02C"/>
<rect x="332.17" y="118.39" width="4.78" height="3.18" fill="#FF7F00"/>
<rect x="336.50" y="140.33" width="4.78" height="6.32" fill="#1F78B4"/>
<rect x="336.50" y="134.06" width="4.78" height="6.32" fill="#6A3D9A"/>
<rect x="336.50" y="96.44" width="4.78" height="37.67" fill="#33A02C"/>
<rect x="336.50" y="93.30" width="4.78" height="3.18" fill="#E31A1C"/>
<rect x="340.83" y="143.47" width="4.78" height="3.18" fill="#6A3D9A"/>
<rect x="340.83" y="115.25" width="4.78" height="28.26" fill="#33A02C"/>
<rect x="345.15" y="143.47" width="4.78" height="3.18" fill="#1F78B4"/>
<rect x="345.15" y="112.12" width="4.78" height="31.40" fill="#33A02C"/>
<rect x="349.48" y="143.47" width="4.78" height="3.18" fill="#1F78B4"/>
<rect x="349.48" y="121.52" width="4.78" height="22.00" fill="#33A02C"/>
<rect x="349.48" y="118.39" width="4.78" height="3.18" fill="#E31A1C"/>
<rect x="353.81" y="143.47" width="4.78" height="3.18" fill="#1F78B4"/>
<rect x="353.81" y="105.84" width="4.78" height="37.67" fill="#33A02C"/>
<rect x="353.81" y="96.44" width="4.78" height="9.46" fill="#E31A1C"/>
<rect x="358.14" y="143.47" width="4.78" height="3.18" fill="#1F78B4"/>
<rect x="358.14" y="112.12" width="4.78" height="31.40" fill="#33A02C"/>
<rect x="358.14" y="108.98" width="4.78" height="3.18" fill="#E31A1C"/>
<rect x="362.47" y="143.47" width="4.78" height="3.18" fill="#33A02C"/>
<rect x="362.47" y="140.33" width="4.78" height="3.18" fill="#E31A1C"/>
<rect x="366.80" y="143.47" width="4.78" height="3.18" fill="#1F78B4"/>
<rect x="366.80" y="140.33" width="4.78" height="3.18" fill="#6A3D9A"/>
<rect x="366.80" y="112.12" width="4.78" height="28.26" fill="#33A02C"/>
<rect x="371.13" y="143.47" width="4.78" height="3.18" fill="#6A3D9A"/>
<rect x="371.13" y="93.31" width="4.78" height="50.21" fill="#33A02C"/>
<rect x="371.13" y="87.04" width="4.78" height="6.32" fill="#E31A1C"/>
<rect x="371.13" y="83.90" width="4.78" height="3.18" fill="#FF7F00"/>
<rect x="375.46" y="143.47" width="4.78" height="3.18" fill="#1F78B4"/>
<rect x="375.46" y="130.93" width="4.78" height="12.59" fill="#33A02C"/>
<rect x="375.46" y="127.79" width="4.78" height="3.18" fill="#FF7F00"/>
<rect x="379.79" y="102.71" width="4.78" height="43.94" fill="#33A02C"/>
<rect x="384.11" y="115.25" width="4.78" height="31.40" fill="#33A02C"/>
<rect x="384.11" y="112.11" width="4.78" height="3.18" fill="#FF7F00"/>
<rect x="388.44" y="99.57" width="4.78" height="47.07" fill="#33A02C"/>
<rect x="388.44" y="96.44" width="4.78" height="3.18" fill="#E31A1C"/>
<rect x="388.44" y="80.76" width="4.78" height="15.72" fill="#FF7F00"/>
<rect x="392.77" y="127.79" width="4.78" height="18.86" fill="#33A02C"/>
<rect x="397.10" y="130.92" width="4.78" height="15.72" fill="#33A02C"/>
<rect x="401.43" y="143.47" width="4.78" height="3.18" fill="#1F78B4"/>
<rect x="401.43" y="115.25" width="4.78" height="28.26" fill="#33A02C"/>
<rect x="401.43" y="102.71" width="4.78" height="12.59" fill="#E31A1C"/>
<rect x="401.43" y="99.58" width="4.78" height="3.18" fill="#FF7F00"/>
<rect x="405.76" y="140.33" width="4.78" height="6.32" fill="#1F78B4"/>
<rect x="405.76" y="130.92" width="4.78" height="9.46" fill="#33A02C"/>
<rect x="405.76" y="127.79" width="4.78" height="3.18" fill="#E31A1C"/>
<rect x="410.09" y="143.47" width="4.78" height="3.18" fill="#1F78B4"/>
<rect x="410.09" y="112.12" width="4.78" height="31.40" fill="#33A02C"/>
<rect x="410.09" y="108.98" width="4.78" height="3.18" fill="#E31A1C"/>
<rect x="414.42" y="130.92" width="4.78" height="15.72" fill="#33A02C"/>
<rect x="414.42" y="124.65" width="4.78" height="6.32" fill="#E31A1C"/>
<rect x="418.75" y="105.84" width="4.78" height="40.80" fill="#33A02C"/>
<rect x="418.75" y="99.58" width="4.78" height="6.32" fill="#FF7F00"/>
<rect x="423.08" y="143.47" width="4.78" height="3.18" fill="#1F78B4"/>
<rect x="423.08" y="108.98" width="4.78" height="34.53" fill="#33A02C"/>
<rect x="427.40" y="143.47" width="4.78" height="3.18" fill="#D53E4F"/>
<rect x="427.40" y="124.66" width="4.78" height="18.86" fill="#33A02C"/>
<rect x="427.40" y="121.52" width="4.78" height="3.18" fill="#E31A1C"/>
<rect x="427.40" y="118.38" width="4.78" height="3.18" fill="#FF7F00"/>
<rect x="431.73" y="143.47" width="4.78" height="3.18" fill="#1F78B4"/>
<rect x="431.73" y="140.33" width="4.78" height="3.18" fill="#D53E4F"/>
<rect x="431.73" y="137.20" width="4.78" height="3.18" fill="#E31A1C"/>
<rect x="436.06" y="143.47" width="4.78" height="3.18" fill="#1F78B4"/>
<rect x="436.06" y="140.33" width="4.78" height="3.18" fill="#D53E4F"/>
<rect x="436.06" y="137.20" width="4.78" height="3.18" fill="#E31A1C"/>
<rect x="440.39" y="143.47" width="4.78" height="3.18" fill="#6A3D9A"/>
<rect x="440.39" y="115.25" width="4.78" height="28.26" fill="#33A02C"/>
<rect x="440.39" y="112.11" width="4.78" height="3.18" fill="#E31A1C"/>
<rect x="444.72" y="112.11" width="4.78" height="34.53" fill="#33A02C"/>
<rect x="444.72" y="105.84" width="4.78" height="6.32" fill="#E31A1C"/>
<rect x="444.72" y="102.71" width="4.78" height="3.18" fill="#FF7F00"/>
<rect x="449.05" y="115.25" width="4.78" height="31.40" fill="#33A02C"/>
<rect x="453.38" y="102.71" width="4.78" height="43.94" fill="#33A02C"/>
<rect x="453.38" y="99.57" width="4.78" height="3.18" fill="#FF7F00"/>
<rect x="457.71" y="124.66" width="4.78" height="22.00" fill="#33A02C"/>
<rect x="457.71" y="121.52" width="4.78" height="3.18" fill="#E31A1C"/>
<rect x="457.71" y="118.38" width="4.78" height="3.18" fill="#FF7F00"/>
<rect x="462.04" y="124.66" width="4.78" height="22.00" fill="#33A02C"/>
<rect x="462.04" y="121.52" width="4.78" height="3.18" fill="#E31A1C"/>
<rect x="462.04" y="118.38" width="4.78" height="3.18" fill="#FF7F00"/>
<rect x="466.36" y="143.47" width="4.78" height="3.18" fill="#6A3D9A"/>
<rect x="466.36" y="108.98" width="4.78" height="34.53" fill="#33A02C"/>
<rect x="470.69" y="140.33" width="4.78" height="6.32" fill="#1F78B4"/>
<rect x="470.69" y="137.19" width="4.78" height="3.18" fill="#6A3D9A"/>
<rect x="470.69" y="130.92" width="4.78" height="6.32" fill="#D53E4F"/>
<rect x="470.69" y="115.25" width="4.78" height="15.72" fill="#33A02C"/>
<rect x="475.02" y="143.47" width="4.78" height="3.18" fill="#1F78B4"/>
<rect x="475.02" y="140.33" width="4.78" height="3.18" fill="#6A3D9A"/>
<rect x="475.02" y="137.20" width="4.78" height="3.18" fill="#D53E4F"/>
<rect x="475.02" y="118.39" width="4.78" height="18.86" fill="#33A02C"/>
<rect x="475.02" y="112.12" width="4.78" height="6.32" fill="#E31A1C"/>
<rect x="479.35" y="143.47" width="4.78" height="3.18" fill="#6A3D9A"/>
<rect x="479.35" y="137.19" width="4.78" height="6.32" fill="#33A02C"/>
<rect x="483.68" y="143.47" width="4.78" height="3.18" fill="#1F78B4"/>
<rect x="483.68" y="140.33" width="4.78" height="3.18" fill="#D53E4F"/>
<rect x="483.68" y="105.85" width="4.78" height="34.53" fill="#33A02C"/>
<rect x="488.01" y="130.92" width="4.78" height="15.72" fill="#33A02C"/>
<rect x="492.34" y="143.47" width="4.78" height="3.18" fill="#6A3D9A"/>
<rect x="492.34" y="118.39" width="4.78" height="25.13" fill="#33A02C"/>
<rect x="492.34" y="115.25" width="4.78" height="3.18" fill="#E31A1C"/>
<rect x="496.67" y="143.47" width="4.78" height="3.18" fill="#D53E4F"/>
<rect x="496.67" y="134.06" width="4.78" height="9.46" fill="#33A02C"/>
<rect x="496.67" y="130.93" width="4.78" height="3.18" fill="#FF7F00"/>
<rect x="501.00" y="143.47" width="4.78" height="3.18" fill="#33A02C"/>
<rect x="505.32" y="143.47" width="4.78" height="3.18" fill="#D53E4F"/>
<rect x="505.32" y="137.19" width="4.78" height="6.32" fill="#33A02C"/>
<rect x="509.65" y="143.47" width="4.78" height="3.18" fill="#D53E4F"/>
<rect x="509.65" y="121.52" width="4.78" height="22.00" fill="#33A02C"/>
<rect x="513.98" y="143.47" width="4.78" height="3.18" fill="#D53E4F"/>
<rect x="518.31" y="140.33" width="4.78" height="6.32" fill="#33A02C"/>
<rect x="522.64" y="143.47" width="4.78" height="3.18" fill="#1F78B4"/>
<rect x="522.64" y="118.39" width="4.78" height="25.13" fill="#33A02C"/>
<rect x="526.97" y="137.19" width="4.78" height="9.46" fill="#6A3D9A"/>
<rect x="526.97" y="127.79" width="4.78" height="9.46" fill="#33A02C"/>
<rect x="526.97" y="121.52" width="4.78" height="6.32" fill="#E31A1C"/>
<rect x="526.97" y="115.25" width="4.78" height="6.32" fill="#FF7F00"/>
<rect x="531.30" y="143.47" width="4.78" height="3.18" fill="#6A3D9A"/>
<rect x="531.30" y="96.44" width="4.78" height="47.07" fill="#33A02C"/>
<rect x="531.30" y="93.30" width="4.78" height="3.18" fill="#E31A1C"/>
<rect x="531.30" y="87.03" width="4.78" height="6.32" fill="#FF7F00"/>
<rect x="535.63" y="143.47" width="4.78" height="3.18" fill="#1F78B4"/>
<rect x="535.63" y="115.25" width="4.78" height="28.26" fill="#33A02C"/>
<rect x="535.63" y="112.11" width="4.78" height="3.18" fill="#E31A1C"/>
<rect x="535.63" y="108.98" width="4.78" height="3.18" fill="#FF7F00"/>
<rect x="539.96" y="127.79" width="4.78" height="18.86" fill="#33A02C"/>
<rect x="539.96" y="124.65" width="4.78" height="3.18" fill="#E31A1C"/>
<rect x="544.29" y="127.79" width="4.78" height="18.86" fill="#33A02C"/>
<rect x="544.29" y="124.65" width="4.78" height="3.18" fill="#E31A1C"/>
<rect x="544.29" y="121.52" width="4.78" height="3.18" fill="#FF7F00"/>
<rect x="548.61" y="143.47" width="4.78" height="3.18" fill="#6A3D9A"/>
<rect x="552.94" y="137.19" width="4.78" height="9.46" fill="#33A02C"/>
<rect x="552.94" y="134.06" width="4.78" height="3.18" fill="#E31A1C"/>
<rect x="557.27" y="140.33" width="4.78" height="6.32" fill="#33A02C"/>
<rect x="561.60" y="140.33" width="4.78" height="6.32" fill="#33A02C"/>
<rect x="565.93" y="143.47" width="4.78" height="3.18" fill="#1F78B4"/>
<rect x="565.93" y="93.31" width="4.78" height="50.21" fill="#33A02C"/>
<rect x="565.93" y="83.90" width="4.78" height="9.46" fill="#E31A1C"/>
<rect x="570.26" y="143.47" width="4.78" height="3.18" fill="#1F78B4"/>
<rect x="570.26" y="124.66" width="4.78" height="18.86" fill="#33A02C"/>
<rect x="570.26" y="118.39" width="4.78" height="6.32" fill="#E31A1C"/>
<rect x="574.59" y="143.47" width="4.78" height="3.18" fill="#1F78B4"/>
<rect x="574.59" y="127.79" width="4.78" height="15.72" fill="#6A3D9A"/>
<rect x="574.59" y="124.66" width="4.78" height="3.18" fill="#D53E4F"/>
<rect x="574.59" y="49.42" width="4.78" height="75.29" fill="#33A02C"/>
<rect x="574.59" y="43.15" width="4.78" height="6.32" fill="#E31A1C"/>
<rect x="574.59" y="40.01" width="4.78" height="3.18" fill="#FF7F00"/>
<rect x="578.92" y="108.98" width="4.78" height="37.67" fill="#33A02C"/>
<rect x="583.25" y="143.47" width="4.78" height="3.18" fill="#33A02C"/>
<rect x="587.57" y="102.71" width="4.78" height="43.94" fill="#33A02C"/>
<rect x="591.90" y="121.52" width="4.78" height="25.13" fill="#33A02C"/>
<rect x="596.23" y="140.33" width="4.78" height="6.32" fill="#33A02C"/>
<rect x="600.56" y="140.33" width="4.78" height="6.32" fill="#1F78B4"/>
<rect x="600.56" y="134.06" width="4.78" height="6.32" fill="#6A3D9A"/>
<rect x="600.56" y="102.71" width="4.78" height="31.40" fill="#33A02C"/>
<rect x="604.89" y="140.33" width="4.78" height="6.32" fill="#D53E4F"/>
<rect x="604.89" y="127.79" width="4.78" height="12.59" fill="#33A02C"/>
<rect x="604.89" y="124.65" width="4.78" height="3.18" fill="#E31A1C"/>
<rect x="609.22" y="143.47" width="4.78" height="3.18" fill="#6A3D9A"/>
<rect x="609.22" y="140.33" width="4.78" height="3.18" fill="#D53E4F"/>
<rect x="609.22" y="124.66" width="4.78" height="15.72" fill="#33A02C"/>
<rect x="609.22" y="115.25" width="4.78" height="9.46" fill="#FF7F00"/>
<rect x="613.55" y="124.66" width="4.78" height="22.00" fill="#33A02C"/>
<rect x="613.55" y="121.52" width="4.78" height="3.18" fill="#FF7F00"/>
<rect x="617.88" y="143.47" width="4.78" height="3.18" fill="#D53E4F"/>
<rect x="622.21" y="143.47" width="4.78" height="3.18" fill="#D53E4F"/>
<rect x="622.21" y="115.25" width="4.78" height="28.26" fill="#33A02C"/>
<rect x="622.21" y="112.11" width="4.78" height="3.18" fill="#E31A1C"/>
<rect x="626.53" y="143.47" width="4.78" height="3.18" fill="#1F78B4"/>
<rect x="626.53" y="99.58" width="4.78" height="43.94" fill="#33A02C"/>
<rect x="626.53" y="96.44" width="4.78" height="3.18" fill="#E31A1C"/>
<rect x="626.53" y="93.30" width="4.78" height="3.18" fill="#FF7F00"/>
<rect x="630.86" y="102.71" width="4.78" height="43.94" fill="#33A02C"/>
<rect x="630.86" y="99.57" width="4.78" height="3.18" fill="#FF7F00"/>
<rect x="635.19" y="77.63" width="4.78" height="69.02" fill="#33A02C"/>
<rect x="635.19" y="74.49" width="4.78" height="3.18" fill="#FF7F00"/>
<rect x="639.52" y="112.11" width="4.78" height="34.53" fill="#33A02C"/>
<rect x="639.52" y="108.98" width="4.78" height="3.18" fill="#E31A1C"/>
<rect x="639.52" y="102.71" width="4.78" height="6.32" fill="#FF7F00"/>
<rect x="643.85" y="143.47" width="4.78" height="3.18" fill="#1F78B4"/>
<rect x="643.85" y="115.25" width="4.78" height="28.26" fill="#33A02C"/>
<rect x="643.85" y="112.11" width="4.78" height="3.18" fill="#E31A1C"/>
<rect x="648.18" y="137.19" width="4.78" height="9.46" fill="#33A02C"/>
<rect x="648.18" y="130.92" width="4.78" height="6.32" fill="#E31A1C"/>
<rect x="652.51" y="130.92" width="4.78" height="15.72" fill="#33A02C"/>
<rect x="652.51" y="127.79" width="4.78" height="3.18" fill="#E31A1C"/>
<rect x="656.84" y="108.98" width="4.78" height="37.67" fill="#33A02C"/>
<rect x="656.84" y="105.84" width="4.78" height="3.18" fill="#FF7F00"/>
<rect x="661.17" y="143.47" width="4.78" height="3.18" fill="#6A3D9A"/>
<rect x="661.17" y="112.12" width="4.78" height="31.40" fill="#33A02C"/>
<rect x="661.17" y="108.98" width="4.78" height="3.18" fill="#E31A1C"/>
<rect x="665.50" y="99.57" width="4.78" height="47.07" fill="#33A02C"/>
<rect x="669.82" y="108.98" width="4.78" height="37.67" fill="#33A02C"/>
<rect x="669.82" y="105.84" width="4.78" height="3.18" fill="#E31A1C"/>
<rect x="669.82" y="102.71" width="4.78" height="3.18" fill="#FF7F00"/>
<rect x="674.15" y="115.25" width="4.78" height="31.40" fill="#33A02C"/>
<rect x="674.15" y="108.98" width="4.78" height="6.32" fill="#E31A1C"/>
<rect x="678.48" y="143.47" width="4.78" height="3.18" fill="#6A3D9A"/>
<rect x="678.48" y="140.33" width="4.78" height="3.18" fill="#33A02C"/>
<rect x="678.48" y="137.20" width="4.78" height="3.18" fill="#FF7F00"/>
<rect x="682.81" y="143.47" width="4.78" height="3.18" fill="#6A3D9A"/>
<rect x="682.81" y="127.79" width="4.78" height="15.72" fill="#33A02C"/>
<rect x="687.14" y="143.47" width="4.78" height="3.18" fill="#6A3D9A"/>
<rect x="687.14" y="140.33" width="4.78" height="3.18" fill="#D53E4F"/>
<rect x="687.14" y="134.06" width="4.78" height="6.32" fill="#33A02C"/>
<rect x="691.47" y="143.47" width="4.78" height="3.18" fill="#1F78B4"/>
<rect x="691.47" y="130.93" width="4.78" height="12.59" fill="#33A02C"/>
<rect x="691.47" y="127.79" width="4.78" height="3.18" fill="#E31A1C"/>
<rect x="695.80" y="143.47" width="4.78" height="3.18" fill="#D53E4F"/>
<rect x="695.80" y="99.58" width="4.78" height="43.94" fill="#33A02C"/>
<rect x="700.13" y="115.25" width="4.78" height="31.40" fill="#33A02C"/>
<rect x="704.46" y="143.47" width="4.78" height="3.18" fill="#6A3D9A"/>
<rect x="704.46" y="124.66" width="4.78" height="18.86" fill="#33A02C"/>
<rect x="708.78" y="143.47" width="4.78" height="3.18" fill="#6A3D9A"/>
<rect x="708.78" y="130.93" width="4.78" height="12.59" fill="#33A02C"/>
<rect x="713.11" y="143.47" width="4.78" height="3.18" fill="#6A3D9A"/>
<rect x="713.11" y="137.19" width="4.78" height="6.32" fill="#33A02C"/>
<rect x="717.44" y="143.47" width="4.78" height="3.18" fill="#1F78B4"/>
<rect x="717.44" y="140.33" width="4.78" height="3.18" fill="#33A02C"/>
<rect x="721.77" y="108.98" width="4.78" height="37.67" fill="#33A02C"/>
<rect x="721.77" y="105.84" width="4.78" height="3.18" fill="#E31A1C"/>
<rect x="721.77" y="99.57" width="4.78" height="6.32" fill="#FF7F00"/>
<rect x="726.10" y="143.47" width="4.78" height="3.18" fill="#6A3D9A"/>
<rect x="726.10" y="140.33" width="4.78" height="3.18" fill="#33A02C"/>
<rect x="726.10" y="137.20" width="4.78" height="3.18" fill="#E31A1C"/>
<rect x="730.43" y="130.92" width="4.78" height="15.72" fill="#33A02C"/>
<rect x="734.76" y="137.19" width="4.78" height="9.46" fill="#33A02C"/>
<rect x="739.09" y="143.47" width="4.78" height="3.18" fill="#D53E4F"/>
<rect x="743.42" y="143.47" width="4.78" height="3.18" fill="#D53E4F"/>
<rect x="743.42" y="121.52" width="4.78" height="22.00" fill="#33A02C"/>
<rect x="743.42" y="115.25" width="4.78" height="6.32" fill="#E31A1C"/>
<rect x="747.74" y="143.47" width="4.78" height="3.18" fill="#D53E4F"/>
<rect x="747.74" y="134.06" width="4.78" height="9.46" fill="#33A02C"/>
<rect x="752.07" y="143.47" width="4.78" height="3.18" fill="#D53E4F"/>
<rect x="752.07" y="127.79" width="4.78" height="15.72" fill="#33A02C"/>
<rect x="756.40" y="143.47" width="4.78" height="3.18" fill="#D53E4F"/>
<rect x="756.40" y="130.93" width="4.78" height="12.59" fill="#33A02C"/>
<rect x="760.73" y="143.47" width="4.78" height="3.18" fill="#D53E4F"/>
<rect x="760.73" y="130.93" width="4.78" height="12.59" fill="#33A02C"/>
<rect x="760.73" y="127.79" width="4.78" height="3.18" fill="#FF7F00"/>
<rect x="765.06" y="140.33" width="4.78" height="6.32" fill="#33A02C"/>
<rect x="765.06" y="137.19" width="4.78" height="3.18" fill="#E31A1C"/>
<rect x="769.39" y="143.47" width="4.78" height="3.18" fill="#6A3D9A"/>
<rect x="769.39" y="96.44" width="4.78" height="47.07" fill="#33A02C"/>
<rect x="769.39" y="93.30" width="4.78" height="3.18" fill="#E31A1C"/>
<rect x="773.72" y="130.92" width="4.78" height="15.72" fill="#33A02C"/>
<rect x="773.72" y="127.79" width="4.78" height="3.18" fill="#E31A1C"/>
<rect x="778.05" y="121.52" width="4.78" height="25.13" fill="#33A02C"/>
<rect x="778.05" y="118.38" width="4.78" height="3.18" fill="#E31A1C"/>
<rect x="782.38" y="140.33" width="4.78" height="6.32" fill="#1F78B4"/>
<rect x="782.38" y="96.44" width="4.78" height="43.94" fill="#33A02C"/>
<rect x="786.71" y="143.47" width="4.78" height="3.18" fill="#6A3D9A"/>
<rect x="786.71" y="121.52" width="4.78" height="22.00" fill="#33A02C"/>
<rect x="791.03" y="115.25" width="4.78" height="31.40" fill="#33A02C"/>
<rect x="791.03" y="108.98" width="4.78" height="6.32" fill="#FF7F00"/>
<rect x="795.36" y="143.47" width="4.78" height="3.18" fill="#1F78B4"/>
<rect x="795.36" y="121.52" width="4.78" height="22.00" fill="#33A02C"/>
<rect x="795.36" y="118.39" width="4.78" height="3.18" fill="#FF7F00"/>
<rect x="799.69" y="143.47" width="4.78" height="3.18" fill="#1F78B4"/>
<rect x="799.69" y="115.25" width="4.78" height="28.26" fill="#33A02C"/>
<rect x="804.02" y="137.19" width="4.78" height="9.46" fill="#33A02C"/>
<path d="M102.4 40.2H111.65V146.1H102.4" stroke="#1a1a1a" stroke-width="1.5" fill="none"/>
<text x="93.2" y="45.5" text-anchor="end" class="s14">34</text>
<text x="93.2" y="151.3" text-anchor="end" class="s14">0</text>
<text transform="translate(81.4,92.8) rotate(-90)" text-anchor="middle" class="s12">TMB</text>
<text x="537.8" y="17.6" text-anchor="middle" class="title">Altered in 159 (82.81%) of 192 samples.</text>
<text x="113.3" y="173.55" text-anchor="end" class="gene">FLT3</text>
<text x="811.8" y="173.55" class="s18">27%</text>
<text x="113.3" y="196.36" text-anchor="end" class="gene">DNMT3A</text>
<text x="811.8" y="196.36" class="s18">25%</text>
<text x="113.3" y="219.16" text-anchor="end" class="gene">NPM1</text>
<text x="811.8" y="219.16" class="s18">17%</text>
<text x="113.3" y="241.97" text-anchor="end" class="gene">IDH2</text>
<text x="811.8" y="241.97" class="s18">10%</text>
<text x="113.3" y="264.77" text-anchor="end" class="gene">IDH1</text>
<text x="811.8" y="264.77" class="s18">9%</text>
<text x="113.3" y="287.58" text-anchor="end" class="gene">TET2</text>
<text x="811.8" y="287.58" class="s18">9%</text>
<text x="113.3" y="310.38" text-anchor="end" class="gene">RUNX1</text>
<text x="811.8" y="310.38" class="s18">8%</text>
<text x="113.3" y="333.19" text-anchor="end" class="gene">TP53</text>
<text x="811.8" y="333.19" class="s18">8%</text>
<text x="113.3" y="355.99" text-anchor="end" class="gene">NRAS</text>
<text x="811.8" y="355.99" class="s18">8%</text>
<text x="113.3" y="378.80" text-anchor="end" class="gene">CEBPA</text>
<text x="811.8" y="378.80" class="s18">7%</text>
<text x="113.3" y="401.60" text-anchor="end" class="gene">WT1</text>
<text x="811.8" y="401.60" class="s18">6%</text>
<text x="113.3" y="424.41" text-anchor="end" class="gene">PTPN11</text>
<text x="811.8" y="424.41" class="s18">5%</text>
<text x="113.3" y="447.21" text-anchor="end" class="gene">KIT</text>
<text x="811.8" y="447.21" class="s18">4%</text>
<text x="113.3" y="470.02" text-anchor="end" class="gene">KRAS</text>
<text x="811.8" y="470.02" class="s18">4%</text>
<text x="113.3" y="492.82" text-anchor="end" class="gene">U2AF1</text>
<text x="811.8" y="492.82" class="s18">4%</text>
<text x="113.3" y="515.63" text-anchor="end" class="gene">SMC3</text>
<text x="811.8" y="515.63" class="s18">4%</text>
<text x="113.3" y="538.43" text-anchor="end" class="gene">PHF6</text>
<text x="811.8" y="538.43" class="s18">3%</text>
<text x="113.3" y="561.24" text-anchor="end" class="gene">SMC1A</text>
<text x="811.8" y="561.24" class="s18">3%</text>
<text x="113.3" y="584.04" text-anchor="end" class="gene">STAG2</text>
<text x="811.8" y="584.04" class="s18">3%</text>
<text x="113.3" y="606.85" text-anchor="end" class="gene">TTN</text>
<text x="811.8" y="606.85" class="s18">3%</text>
<rect x="862.70" y="157.45" width="126.97" height="20.40" fill="#D53E4F"/>
<rect x="989.62" y="157.45" width="57.74" height="20.40" fill="#33A02C"/>
<rect x="1047.32" y="157.45" width="3.90" height="20.40" fill="#FFFF99"/>
<rect x="1051.16" y="157.45" width="11.59" height="20.40" fill="#FF7F00"/>
<rect x="862.70" y="180.27" width="15.43" height="20.40" fill="#1F78B4"/>
<rect x="878.08" y="180.27" width="123.13" height="20.40" fill="#33A02C"/>
<rect x="1001.16" y="180.27" width="15.43" height="20.40" fill="#E31A1C"/>
<rect x="1016.55" y="180.27" width="7.74" height="20.40" fill="#FF7F00"/>
<rect x="1024.24" y="180.27" width="23.13" height="20.40" fill="#000000"/>
<rect x="862.70" y="203.10" width="3.90" height="20.40" fill="#33A02C"/>
<rect x="866.55" y="203.10" width="119.28" height="20.40" fill="#6A3D9A"/>
<rect x="985.78" y="203.10" width="3.90" height="20.40" fill="#000000"/>
<rect x="862.70" y="225.92" width="76.97" height="20.40" fill="#33A02C"/>
<rect x="862.70" y="248.75" width="69.28" height="20.40" fill="#33A02C"/>
<rect x="862.70" y="271.57" width="19.28" height="20.40" fill="#1F78B4"/>
<rect x="881.93" y="271.57" width="11.59" height="20.40" fill="#E31A1C"/>
<rect x="893.47" y="271.57" width="34.67" height="20.40" fill="#000000"/>
<rect x="862.70" y="294.40" width="3.90" height="20.40" fill="#1F78B4"/>
<rect x="866.55" y="294.40" width="19.28" height="20.40" fill="#33A02C"/>
<rect x="885.78" y="294.40" width="3.90" height="20.40" fill="#FFFF99"/>
<rect x="889.62" y="294.40" width="7.74" height="20.40" fill="#6A3D9A"/>
<rect x="897.32" y="294.40" width="11.59" height="20.40" fill="#E31A1C"/>
<rect x="908.85" y="294.40" width="3.90" height="20.40" fill="#FF7F00"/>
<rect x="912.70" y="294.40" width="11.59" height="20.40" fill="#000000"/>
<rect x="862.70" y="317.23" width="26.97" height="20.40" fill="#33A02C"/>
<rect x="889.62" y="317.23" width="7.74" height="20.40" fill="#6A3D9A"/>
<rect x="897.32" y="317.23" width="7.74" height="20.40" fill="#FF7F00"/>
<rect x="905.01" y="317.23" width="15.43" height="20.40" fill="#000000"/>
<rect x="862.70" y="340.05" width="57.74" height="20.40" fill="#33A02C"/>
<rect x="862.70" y="362.88" width="7.74" height="20.40" fill="#D53E4F"/>
<rect x="870.39" y="362.88" width="7.74" height="20.40" fill="#1F78B4"/>
<rect x="878.08" y="362.88" width="3.90" height="20.40" fill="#33A02C"/>
<rect x="881.93" y="362.88" width="3.90" height="20.40" fill="#FFFF99"/>
<rect x="885.78" y="362.88" width="7.74" height="20.40" fill="#6A3D9A"/>
<rect x="893.47" y="362.88" width="19.28" height="20.40" fill="#000000"/>
<rect x="862.70" y="385.70" width="3.90" height="20.40" fill="#1F78B4"/>
<rect x="866.55" y="385.70" width="7.74" height="20.40" fill="#33A02C"/>
<rect x="874.24" y="385.70" width="26.97" height="20.40" fill="#6A3D9A"/>
<rect x="901.16" y="385.70" width="7.74" height="20.40" fill="#FF7F00"/>
<rect x="862.70" y="408.52" width="34.67" height="20.40" fill="#33A02C"/>
<rect x="862.70" y="431.35" width="3.90" height="20.40" fill="#D53E4F"/>
<rect x="866.55" y="431.35" width="19.28" height="20.40" fill="#33A02C"/>
<rect x="885.78" y="431.35" width="7.74" height="20.40" fill="#000000"/>
<rect x="862.70" y="454.17" width="30.82" height="20.40" fill="#33A02C"/>
<rect x="862.70" y="477.00" width="30.82" height="20.40" fill="#33A02C"/>
<rect x="862.70" y="499.82" width="19.28" height="20.40" fill="#33A02C"/>
<rect x="881.93" y="499.82" width="3.90" height="20.40" fill="#E31A1C"/>
<rect x="885.78" y="499.82" width="3.90" height="20.40" fill="#FF7F00"/>
<rect x="862.70" y="522.65" width="7.74" height="20.40" fill="#33A02C"/>
<rect x="870.39" y="522.65" width="7.74" height="20.40" fill="#6A3D9A"/>
<rect x="878.08" y="522.65" width="3.90" height="20.40" fill="#E31A1C"/>
<rect x="881.93" y="522.65" width="3.90" height="20.40" fill="#FF7F00"/>
<rect x="862.70" y="545.47" width="19.28" height="20.40" fill="#33A02C"/>
<rect x="881.93" y="545.47" width="3.90" height="20.40" fill="#FF7F00"/>
<rect x="862.70" y="568.30" width="11.59" height="20.40" fill="#E31A1C"/>
<rect x="874.24" y="568.30" width="11.59" height="20.40" fill="#FF7F00"/>
<rect x="862.70" y="591.12" width="3.90" height="20.40" fill="#D53E4F"/>
<rect x="866.55" y="591.12" width="19.28" height="20.40" fill="#33A02C"/>
<path d="M862.9 141.6V150.9H1062.7V141.6" stroke="#1a1a1a" stroke-width="1.4" fill="none"/>
<text x="862.8" y="129.3" text-anchor="middle" class="s13">0</text>
<text x="1062.4" y="129.3" text-anchor="middle" class="s13">52</text>
<text x="962.5" y="141.8" text-anchor="middle" class="s13b">No. of samples</text>
<rect x="120.20" y="620.50" width="181.87" height="19.30" fill="#984EA3"/>
<rect x="302.02" y="620.50" width="164.55" height="19.30" fill="#4DAF4A"/>
<rect x="466.51" y="620.50" width="142.90" height="19.30" fill="#E41A1C"/>
<rect x="609.37" y="620.50" width="69.31" height="19.30" fill="#FF7F00"/>
<rect x="678.63" y="620.50" width="60.66" height="19.30" fill="#377EB8"/>
<rect x="739.24" y="620.50" width="43.34" height="19.30" fill="#FFFF33"/>
<rect x="782.53" y="620.50" width="13.04" height="19.30" fill="#A65628"/>
<rect x="795.51" y="620.50" width="8.71" height="19.30" fill="#F781BF"/>
<rect x="804.17" y="620.50" width="4.38" height="19.30" fill="#A6A6A6"/>
<rect x="120.20" y="639.50" width="4.38" height="19.60" fill="#377EB8"/>
<rect x="124.53" y="639.50" width="13.04" height="19.60" fill="#E41A1C"/>
<rect x="137.52" y="639.50" width="4.38" height="19.60" fill="#377EB8"/>
<rect x="141.84" y="639.50" width="13.04" height="19.60" fill="#E41A1C"/>
<rect x="154.83" y="639.50" width="4.38" height="19.60" fill="#377EB8"/>
<rect x="159.16" y="639.50" width="17.37" height="19.60" fill="#E41A1C"/>
<rect x="176.48" y="639.50" width="4.38" height="19.60" fill="#377EB8"/>
<rect x="180.81" y="639.50" width="17.37" height="19.60" fill="#E41A1C"/>
<rect x="198.12" y="639.50" width="4.38" height="19.60" fill="#377EB8"/>
<rect x="202.45" y="639.50" width="8.71" height="19.60" fill="#E41A1C"/>
<rect x="211.11" y="639.50" width="4.38" height="19.60" fill="#377EB8"/>
<rect x="215.44" y="639.50" width="4.38" height="19.60" fill="#E41A1C"/>
<rect x="219.77" y="639.50" width="8.71" height="19.60" fill="#377EB8"/>
<rect x="228.42" y="639.50" width="4.38" height="19.60" fill="#E41A1C"/>
<rect x="232.75" y="639.50" width="4.38" height="19.60" fill="#377EB8"/>
<rect x="237.08" y="639.50" width="21.69" height="19.60" fill="#E41A1C"/>
<rect x="258.73" y="639.50" width="4.38" height="19.60" fill="#377EB8"/>
<rect x="263.05" y="639.50" width="13.04" height="19.60" fill="#E41A1C"/>
<rect x="276.04" y="639.50" width="4.38" height="19.60" fill="#377EB8"/>
<rect x="280.37" y="639.50" width="8.71" height="19.60" fill="#E41A1C"/>
<rect x="289.03" y="639.50" width="8.71" height="19.60" fill="#377EB8"/>
<rect x="297.69" y="639.50" width="4.38" height="19.60" fill="#E41A1C"/>
<rect x="302.02" y="639.50" width="4.38" height="19.60" fill="#377EB8"/>
<rect x="306.34" y="639.50" width="26.02" height="19.60" fill="#E41A1C"/>
<rect x="332.32" y="639.50" width="4.38" height="19.60" fill="#377EB8"/>
<rect x="336.65" y="639.50" width="43.34" height="19.60" fill="#E41A1C"/>
<rect x="379.94" y="639.50" width="4.38" height="19.60" fill="#377EB8"/>
<rect x="384.26" y="639.50" width="8.71" height="19.60" fill="#E41A1C"/>
<rect x="392.92" y="639.50" width="4.38" height="19.60" fill="#377EB8"/>
<rect x="397.25" y="639.50" width="4.38" height="19.60" fill="#E41A1C"/>
<rect x="401.58" y="639.50" width="4.38" height="19.60" fill="#377EB8"/>
<rect x="405.91" y="639.50" width="4.38" height="19.60" fill="#E41A1C"/>
<rect x="410.24" y="639.50" width="8.71" height="19.60" fill="#377EB8"/>
<rect x="418.90" y="639.50" width="8.71" height="19.60" fill="#E41A1C"/>
<rect x="427.55" y="639.50" width="4.38" height="19.60" fill="#377EB8"/>
<rect x="431.88" y="639.50" width="4.38" height="19.60" fill="#E41A1C"/>
<rect x="436.21" y="639.50" width="4.38" height="19.60" fill="#377EB8"/>
<rect x="440.54" y="639.50" width="4.38" height="19.60" fill="#E41A1C"/>
<rect x="444.87" y="639.50" width="8.71" height="19.60" fill="#377EB8"/>
<rect x="453.53" y="639.50" width="4.38" height="19.60" fill="#E41A1C"/>
<rect x="457.86" y="639.50" width="4.38" height="19.60" fill="#377EB8"/>
<rect x="462.19" y="639.50" width="17.37" height="19.60" fill="#E41A1C"/>
<rect x="479.50" y="639.50" width="4.38" height="19.60" fill="#377EB8"/>
<rect x="483.83" y="639.50" width="8.71" height="19.60" fill="#E41A1C"/>
<rect x="492.49" y="639.50" width="4.38" height="19.60" fill="#377EB8"/>
<rect x="496.82" y="639.50" width="17.37" height="19.60" fill="#E41A1C"/>
<rect x="514.13" y="639.50" width="8.71" height="19.60" fill="#377EB8"/>
<rect x="522.79" y="639.50" width="4.38" height="19.60" fill="#E41A1C"/>
<rect x="527.12" y="639.50" width="4.38" height="19.60" fill="#377EB8"/>
<rect x="531.45" y="639.50" width="13.04" height="19.60" fill="#E41A1C"/>
<rect x="544.44" y="639.50" width="4.38" height="19.60" fill="#377EB8"/>
<rect x="548.76" y="639.50" width="47.67" height="19.60" fill="#E41A1C"/>
<rect x="596.38" y="639.50" width="4.38" height="19.60" fill="#377EB8"/>
<rect x="600.71" y="639.50" width="4.38" height="19.60" fill="#E41A1C"/>
<rect x="605.04" y="639.50" width="8.71" height="19.60" fill="#377EB8"/>
<rect x="613.70" y="639.50" width="4.38" height="19.60" fill="#E41A1C"/>
<rect x="618.03" y="639.50" width="4.38" height="19.60" fill="#377EB8"/>
<rect x="622.36" y="639.50" width="8.71" height="19.60" fill="#E41A1C"/>
<rect x="631.01" y="639.50" width="4.38" height="19.60" fill="#377EB8"/>
<rect x="635.34" y="639.50" width="13.04" height="19.60" fill="#E41A1C"/>
<rect x="648.33" y="639.50" width="4.38" height="19.60" fill="#377EB8"/>
<rect x="652.66" y="639.50" width="17.37" height="19.60" fill="#E41A1C"/>
<rect x="669.97" y="639.50" width="4.38" height="19.60" fill="#377EB8"/>
<rect x="674.30" y="639.50" width="13.04" height="19.60" fill="#E41A1C"/>
<rect x="687.29" y="639.50" width="4.38" height="19.60" fill="#377EB8"/>
<rect x="691.62" y="639.50" width="26.02" height="19.60" fill="#E41A1C"/>
<rect x="717.59" y="639.50" width="4.38" height="19.60" fill="#377EB8"/>
<rect x="721.92" y="639.50" width="4.38" height="19.60" fill="#E41A1C"/>
<rect x="726.25" y="639.50" width="8.71" height="19.60" fill="#377EB8"/>
<rect x="734.91" y="639.50" width="8.71" height="19.60" fill="#E41A1C"/>
<rect x="743.57" y="639.50" width="13.04" height="19.60" fill="#377EB8"/>
<rect x="756.55" y="639.50" width="4.38" height="19.60" fill="#E41A1C"/>
<rect x="760.88" y="639.50" width="4.38" height="19.60" fill="#377EB8"/>
<rect x="765.21" y="639.50" width="4.38" height="19.60" fill="#E41A1C"/>
<rect x="769.54" y="639.50" width="13.04" height="19.60" fill="#377EB8"/>
<rect x="782.53" y="639.50" width="26.02" height="19.60" fill="#E41A1C"/>
<text x="817" y="636" class="s18">FAB_classification</text>
<text x="817" y="655.5" class="s18">Overall_Survival_Status</text>
<rect x="16.30" y="676.90" width="8.20" height="8.00" fill="#D53E4F"/>
<text x="37.1" y="686.8" class="s18">In_Frame_Ins</text>
<rect x="16.30" y="698.90" width="8.20" height="8.00" fill="#1F78B4"/>
<text x="37.1" y="708.8" class="s18">Frame_Shift_Del</text>
<rect x="16.30" y="720.70" width="8.20" height="8.00" fill="#33A02C"/>
<text x="37.1" y="730.6" class="s18">Missense_Mutation</text>
<rect x="16.30" y="742.50" width="8.20" height="8.00" fill="#FFFF99"/>
<text x="37.1" y="752.4" class="s18">In_Frame_Del</text>
<rect x="215.90" y="676.90" width="8.20" height="8.00" fill="#6A3D9A"/>
<text x="236.7" y="686.8" class="s18">Frame_Shift_Ins</text>
<rect x="215.90" y="698.90" width="8.20" height="8.00" fill="#E31A1C"/>
<text x="236.7" y="708.8" class="s18">Nonsense_Mutation</text>
<rect x="215.90" y="720.70" width="8.20" height="8.00" fill="#FF7F00"/>
<text x="236.7" y="730.6" class="s18">Splice_Site</text>
<rect x="215.90" y="742.50" width="8.20" height="8.00" fill="#000000"/>
<text x="236.7" y="752.4" class="s18">Multi_Hit</text>
<text x="452.2" y="685.9" class="s18">FAB_classification</text>
<text x="635.3" y="685.9" class="s18">Overall_Survival_Status</text>
<rect x="464.00" y="704.40" width="8.20" height="8.00" fill="#FF7F00"/>
<text x="484.4" y="714.3" class="s18">M0</text>
<rect x="464.00" y="725.90" width="8.20" height="8.00" fill="#984EA3"/>
<text x="484.4" y="735.8" class="s18">M1</text>
<rect x="464.00" y="747.30" width="8.20" height="8.00" fill="#4DAF4A"/>
<text x="484.4" y="757.2" class="s18">M2</text>
<rect x="521.80" y="704.40" width="8.20" height="8.00" fill="#FFFF33"/>
<text x="542.9" y="714.3" class="s18">M3</text>
<rect x="521.80" y="725.90" width="8.20" height="8.00" fill="#E41A1C"/>
<text x="542.9" y="735.8" class="s18">M4</text>
<rect x="521.80" y="747.30" width="8.20" height="8.00" fill="#377EB8"/>
<text x="542.9" y="757.2" class="s18">M5</text>
<rect x="580.60" y="704.40" width="8.20" height="8.00" fill="#F781BF"/>
<text x="601.3" y="714.3" class="s18">M6</text>
<rect x="580.60" y="725.90" width="8.20" height="8.00" fill="#A65628"/>
<text x="601.3" y="735.8" class="s18">M7</text>
<rect x="580.60" y="747.30" width="8.20" height="8.00" fill="#BDBDBD"/>
<text x="601.3" y="757.2" class="s18">NA</text>
<rect x="724.90" y="704.40" width="8.20" height="8.00" fill="#377EB8"/>
<text x="745.9" y="714.3" class="s18">0</text>
<rect x="724.90" y="725.90" width="8.20" height="8.00" fill="#E41A1C"/>
<text x="745.9" y="735.8" class="s18">1</text>
</svg>
</body></html>
